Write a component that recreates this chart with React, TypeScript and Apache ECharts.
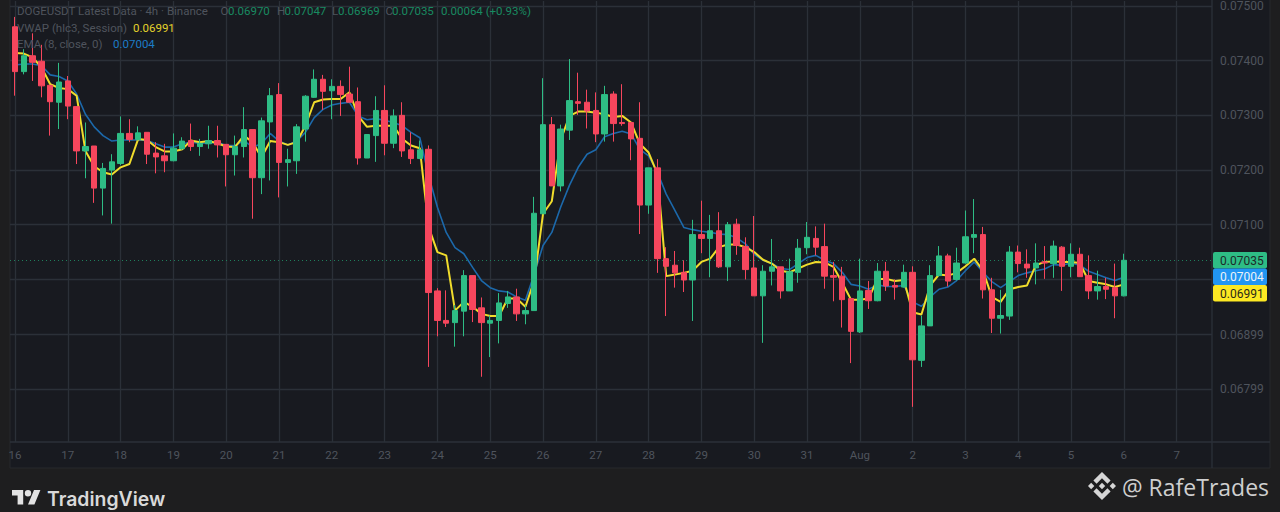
import React, { useEffect, useRef } from "react";
import * as echarts from "echarts";

const UNIT = 1e-5;
const opens = [
  7462,7380,7409,7399,7355,7324,7363,7316,7235,7244,
  7167,7200,7212,7267,7256,7269,7231,7226,7217,7239,
  7254,7243,7248,7254,7247,7228,7243,7274,7186,7288,
  7338,7214,7217,7275,7333,7366,7345,7353,7339,7325,
  7222,7263,7309,7249,7300,7237,7221,7238,6979,6925,
  6921,6942,7007,6948,6920,6925,6956,6968,6937,6943,
  7120,7283,7171,7273,7325,7324,7309,7266,7339,7287,
  7287,7258,7136,7204,7038,7026,7013,6999,7082,7075,
  7089,7023,7101,7060,7021,6970,7015,7023,6979,7013,
  7058,7075,7060,7007,7006,6965,6904,6980,6961,7015,
  6989,6986,7013,6852,6915,7007,7043,7000,7030,7077,
  7082,6981,6929,6933,7050,7028,7021,7032,7029,7059,
  7024,7046,7007,6979,6987,6985,6970,
];
const closes = [
  7380,7409,7397,7354,7325,7361,7317,7235,7243,7167,
  7203,7215,7267,7256,7268,7229,7224,7217,7240,7253,
  7243,7249,7254,7246,7228,7243,7274,7186,7290,7336,
  7214,7219,7279,7335,7366,7344,7353,7338,7324,7222,
  7265,7309,7249,7299,7235,7221,7237,6976,6925,6920,
  6943,7007,6945,6921,6925,6957,6968,6937,6943,7121,
  7283,7171,7275,7327,7322,7308,7266,7338,7285,7285,
  7257,7136,7204,7038,7024,7012,6999,7082,7075,7089,
  7023,7100,7062,7018,6970,7015,7023,6979,7014,7057,
  7077,7059,7006,7004,6963,6905,6979,6961,7015,6988,
  6986,7013,6853,6915,7007,7043,6997,7030,7078,7082,
  6981,6929,6934,7050,7029,7021,7030,7030,7061,7024,
  7046,7005,6979,6987,6982,6970,7035,
];
const lows = [
  7336,7375,7363,7333,7263,7275,7293,7211,7185,7140,
  7117,7102,7209,7251,7254,7211,7194,7196,7216,7237,
  7235,7226,7239,7223,7170,7190,7223,7111,7156,7181,
  7150,7170,7193,7252,7332,7310,7293,7299,7324,7210,
  7222,7215,7227,7240,7224,7211,7220,6840,6896,6913,
  6877,6896,6922,6822,6858,6883,6948,6924,6918,6943,
  7120,7171,7161,7255,7301,7276,7251,7252,7252,7281,
  7218,7083,7120,7012,6933,6985,6977,6924,7048,7004,
  7021,6997,7045,7000,6970,6884,6989,6965,6979,6994,
  7046,7044,6983,6960,6912,6847,6902,6946,6960,6979,
  6963,6985,6767,6840,6915,7005,6987,6998,7029,7048,
  6965,6902,6901,6926,7013,7003,6991,7001,7003,6979,
  7004,7005,6964,6963,6964,6929,6969,
];
const highs = [
  7480,7421,7450,7429,7355,7396,7372,7316,7287,7244,
  7213,7229,7298,7293,7280,7269,7251,7248,7267,7260,
  7285,7257,7281,7281,7247,7263,7315,7274,7296,7350,
  7359,7239,7284,7337,7384,7374,7366,7364,7389,7351,
  7265,7335,7355,7311,7324,7269,7254,7245,6984,6980,
  6953,7017,7007,6967,6934,6975,6979,6983,6953,7151,
  7368,7297,7283,7403,7378,7347,7342,7354,7344,7357,
  7287,7324,7204,7220,7059,7052,7035,7109,7144,7118,
  7123,7105,7111,7077,7116,7026,7074,7023,7038,7074,
  7105,7097,7102,7032,7023,6965,7038,6997,7030,7032,
  7000,7027,7024,6934,7026,7061,7047,7058,7126,7147,
  7096,7003,6981,7061,7062,7055,7066,7061,7071,7061,
  7066,7058,7044,7016,7003,7029,7047,
];
const vwap = [
  7414,7413,7406,7388,7357,7350,7348,7336,7235,7207,
  7196,7192,7205,7211,7257,7255,7242,7234,7234,7238,
  7254,7251,7253,7249,7243,7242,7263,7251,7223,7253,
  7251,7246,7251,7281,7324,7329,7330,7330,7342,7299,
  7279,7281,7281,7281,7257,7245,7240,7096,7050,7044,
  6943,6959,6950,6937,6933,6933,6965,6965,6950,6998,
  7120,7143,7254,7299,7307,7307,7305,7302,7297,7299,
  7287,7248,7232,7193,7006,7009,7012,7016,7032,7038,
  7059,7064,7064,7059,7050,7036,7029,7016,7013,7020,
  7027,7032,7031,7023,6994,6963,6963,6965,7001,7001,
  6997,6999,6940,6936,6989,7009,7007,7012,7024,7038,
  7016,6968,6959,6982,6986,6989,7026,7032,7033,7032,
  7032,7030,6997,6994,6991,6986,6991,
];
const ema = [
  7392,7394,7394,7391,7374,7371,7363,7339,7302,7279,
  7263,7253,7255,7255,7255,7254,7248,7242,7242,7248,
  7251,7249,7249,7251,7245,7245,7254,7242,7248,7267,
  7253,7246,7253,7269,7296,7311,7319,7322,7324,7299,
  7292,7294,7291,7287,7281,7269,7259,7190,7132,7086,
  7058,7047,7022,6998,6985,6979,6977,6968,6962,7010,
  7062,7086,7132,7172,7205,7229,7237,7261,7267,7271,
  7266,7238,7226,7196,7156,7126,7095,7091,7088,7086,
  7083,7082,7076,7065,7046,7035,7029,7020,7018,7029,
  7040,7044,7035,7029,7013,6991,6988,6982,6990,6987,
  6987,6989,6959,6951,6968,6982,6986,6998,7016,7032,
  7013,6996,6985,6996,7007,7012,7016,7019,7027,7026,
  7030,7026,7015,7009,7003,6998,7004,
];
const dayLabels = ["16","17","18","19","20","21","22","23","24","25","26","27","28","29","30","31","Aug","2","3","4","5","6","7"];
const candlesPerDay = 6;
const gridPrices = [0.075, 0.074, 0.073, 0.072, 0.071, 0.07, 0.06899, 0.06799];
const labelPrices = [0.075, 0.074, 0.073, 0.072, 0.071, 0.06899, 0.06799];
const lastPrice = 0.07035;

const headerTitle = "DOGEUSDT Latest Data · 4h · Binance";
const vwapTitle = "VWAP (hlc3, Session)";
const emaTitle = "EMA (8, close, 0)";

const LOGO_TV = "M14 25H7V14H0V7h14v18zM28 25h-8l7.5-18h8L28 25zM24 11a4 4 0 1 1-8 0 4 4 0 0 1 8 0z";
const LOGO_BN = "M38.73 53.2l24.59-24.58 24.6 24.6 14.3-14.31L63.32 0 24.42 38.9l14.31 14.3zM0 63.31l14.3-14.31 14.31 14.31-14.31 14.3zM38.73 73.41l24.59 24.59 24.6-24.6 14.31 14.29-38.9 38.91-38.91-38.88-.02-.02zM98 63.31l14.3-14.31 14.31 14.3-14.31 14.32zM77.83 63.3L63.32 48.78 52.59 59.51l-1.24 1.23-2.54 2.54 14.51 14.5 14.51-14.47z";
echarts.graphic.registerShape("tvLogo", echarts.graphic.extendPath(LOGO_TV, {}) as any);
echarts.graphic.registerShape("bnLogo", echarts.graphic.extendPath(LOGO_BN, {}) as any);

const FONT = "Roboto, sans-serif";
const UP = "#2ebd85";
const DOWN = "#f6465d";
const GRAY = "#4f545d";

function text(x: number, y: number, t: string, fill: string, extra: any = {}) {
  return {
    type: "text", x, y, z: 20,
    style: { text: t, fill, font: `11.5px ${FONT}`, textVerticalAlign: "middle", ...extra },
  };
}

export default function App() {
  const ref = useRef<HTMLDivElement>(null);
  useEffect(() => {
    document.body.style.margin = "0";
    document.body.style.overflow = "hidden";
    const chart = echarts.init(ref.current!, undefined, { renderer: "svg" });
    const hdr = "#188a61";
    chart.setOption({
      animation: false,
      backgroundColor: "#1e1e1f",
      grid: { left: 10, right: 68, top: 0, bottom: 70 },
      xAxis: {
        type: "value",
        min: -0.57,
        max: 136.02,
        axisLine: { show: false },
        axisTick: { show: false, customValues: dayLabels.map((_, k) => k * candlesPerDay) },
        splitLine: { show: true, lineStyle: { color: "#2b3038", width: 1.3 } },
        axisLabel: {
          customValues: dayLabels.map((_, k) => k * candlesPerDay),
          formatter: (v: number) => dayLabels[Math.round(v / candlesPerDay)],
          color: GRAY, fontFamily: FONT, fontSize: 11.5, margin: 7,
        },
      },
      yAxis: {
        type: "value",
        position: "right",
        min: 0.067027,
        max: 0.075093,
        axisLine: { show: false },
        axisTick: { show: false, customValues: gridPrices },
        splitLine: { show: true, lineStyle: { color: "#2b3038", width: 1.3 } },
        axisLabel: {
          customValues: labelPrices,
          formatter: (v: number) => v.toFixed(5),
          color: GRAY, fontFamily: FONT, fontSize: 12, margin: 8,
        },
      },
      series: [
        {
          type: "line", name: "EMA", z: 2, showSymbol: false, silent: true,
          data: ema.map((v, i) => [i, v * UNIT]),
          lineStyle: { color: "#1c69ab", width: 1.6 },
        },
        {
          type: "line", name: "VWAP", z: 2, showSymbol: false, silent: true,
          data: vwap.map((v, i) => [i, v * UNIT]),
          lineStyle: { color: "#f0dc2c", width: 2 },
          markLine: {
            z: 1, silent: true, symbol: "none", precision: 5, label: { show: false },
            lineStyle: { color: "#1f7f5c", type: [1, 3], width: 1 },
            data: [{ yAxis: lastPrice }],
          },
        },
        {
          type: "candlestick", name: "DOGEUSDT", z: 3, barWidth: 6,
          data: opens.map((o, i) => [i, o * UNIT, closes[i] * UNIT, lows[i] * UNIT, highs[i] * UNIT]),
          itemStyle: {
            color: UP, color0: DOWN, borderColor: UP, borderColor0: DOWN, borderColorDoji: DOWN, borderWidth: 1,
          },
        },
      ],
      graphic: [
        { type: "rect", z: -1, shape: { x: 10, y: -2, width: 1260, height: 470 }, style: { fill: "#181a20", stroke: "#26282d", lineWidth: 1 } },
        { type: "line", z: 10, shape: { x1: 10, y1: 442, x2: 1270, y2: 442 }, style: { stroke: "#2b3139", lineWidth: 1.3 } },
        { type: "line", z: 10, shape: { x1: 1212, y1: 0, x2: 1212, y2: 468 }, style: { stroke: "#2b3139", lineWidth: 1.3 } },

        text(17, 11, headerTitle, GRAY),
        text(220.5, 11, "O", GRAY), text(228, 11, "0.06970", hdr),
        text(277, 11, "H", GRAY), text(284.5, 11, "0.07047", hdr),
        text(332, 11, "L", GRAY), text(338, 11, "0.06969", hdr),
        text(385.5, 11, "C", GRAY), text(392, 11, "0.07035", hdr),
        text(441, 11, "0.00064 (+0.93%)", hdr),
        text(17, 28, vwapTitle, GRAY),
        text(133, 28, "0.06991", "#e4d32c"),
        text(17, 44, emaTitle, GRAY),
        text(113, 44, "0.07004", "#1c7cc7"),

        { type: "rect", z: 15, shape: { x: 1213, y: 252, width: 54, height: 16.5, r: 2 }, style: { fill: UP } },
        { type: "rect", z: 15, shape: { x: 1213, y: 268.5, width: 54, height: 16.5, r: 2 }, style: { fill: "#2196f3" } },
        { type: "rect", z: 15, shape: { x: 1213, y: 285, width: 54, height: 16.5, r: 2 }, style: { fill: "#fce823" } },
        text(1220, 260.5, "0.07035", "#1d2a28", { font: `12px ${FONT}` }),
        text(1220, 277, "0.07004", "#eef3f8", { font: `12px ${FONT}` }),
        text(1220, 293.5, "0.06991", "#2b2a18", { font: `12px ${FONT}` }),

        { type: "tvLogo", z: 20, x: 12, y: 484.4, scaleX: 0.8, scaleY: 0.8, style: { fill: "#e3e3e3" } },
        text(47, 498.5, "TradingView", "#d9d9d9", { font: `600 19.4px Inter, ${FONT}` }),
        { type: "bnLogo", z: 20, x: 1088, y: 472, scaleX: 0.221, scaleY: 0.221, style: { fill: "#d6d6d6" } },
        text(1122, 486.5, "@ RafeTrades", "#cfcfcf", { font: `23px "Open Sans", ${FONT}` }),
      ],
    });
    return () => chart.dispose();
  }, []);
  return <div ref={ref} style={{ width: 1280, height: 512 }} />;
}
